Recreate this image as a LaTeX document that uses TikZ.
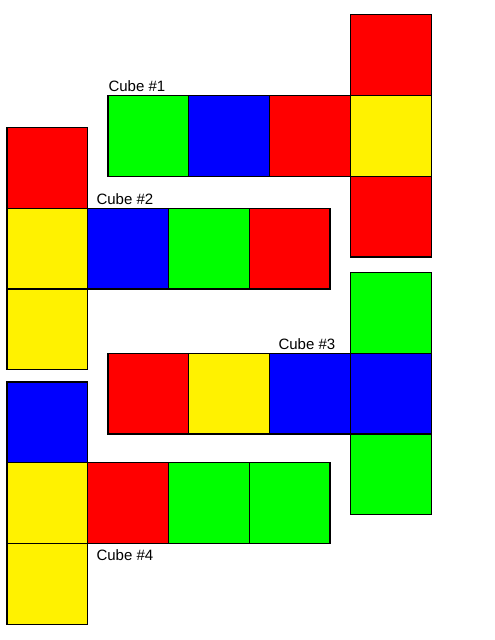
\documentclass[tikz,border=0pt]{standalone}
\usepackage{fontspec}
\setmainfont{Liberation Sans}
\usepackage{tikz}
\newcommand{\face}[3]{
	\filldraw[fill=#3](#1,#2)rectangle++(80.75,80.75)
}

\begin{document}
\begin{tikzpicture}[x=1pt, y=-1pt, line width=1.1pt, every node/.style={font=\fontsize{15}{18}\selectfont, anchor=base west, inner sep=0pt}]
		\useasboundingbox (0,0) rectangle (495,640);
		% cube 1
		\face{108}{95.5}{green};
		\face{188.75}{95.5}{blue};
		\face{269.5}{95.5}{red};
		\face{350.5}{14.5}{red};
		\face{350.5}{95.5}{yellow};
		\face{350.5}{176.25}{red};
		\node (lab1) at (108, 91.5){Cube \#1};
		% cube 2
		\face{7}{127.5}{red};
		\face{7}{208.25}{yellow};
		\face{7}{289}{yellow};
		\face{87.75}{208.25}{blue};
		\face{168.5}{208.25}{green};
		\face{249.25}{208.25}{red};
		\node (lab2) at (96, 204){Cube \#2};
		% cube 3
		\face{350.5}{272.5}{green};
		\face{350.5}{353.25}{blue};
		\face{350.5}{434}{green};
		\face{108}{353.25}{red};
		\face{188.75}{353.25}{yellow};
		\face{269.5}{353.25}{blue};
		\node (lab3) at (278, 349){Cube \#3};
		% cube 4
		\face{7}{382}{blue};
		\face{7}{462.75}{yellow};
		\face{7}{543.5}{yellow};
		\face{87.75}{462.75}{red};
		\face{168.5}{462.75}{green};
		\face{249.25}{462.75}{green};
		\node (lab4) at (96, 560){Cube \#4};
	\end{tikzpicture}
\end{document}
